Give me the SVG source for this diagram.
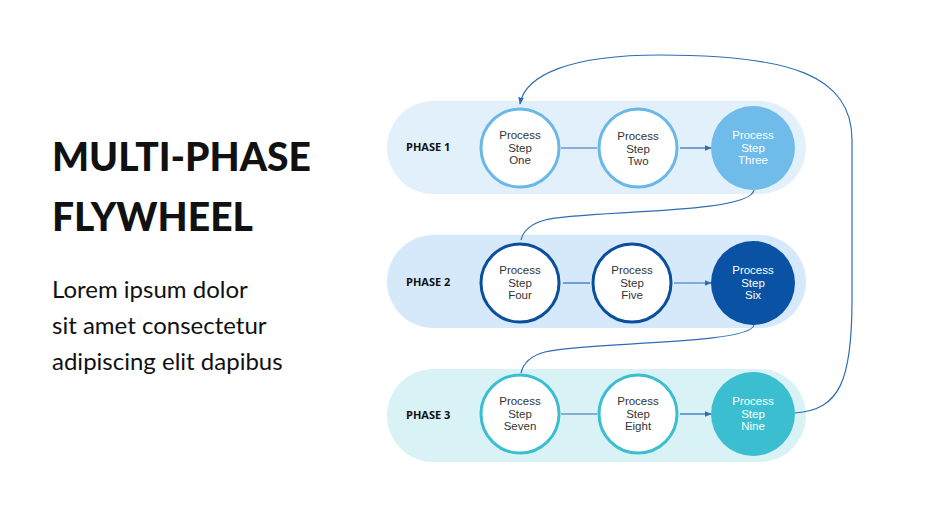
<svg xmlns="http://www.w3.org/2000/svg" width="940" height="529" viewBox="0 0 940 529">
<defs>
<style>
.t{font-family:Lato,"Noto Sans",sans-serif;font-weight:900;font-size:39px;fill:#111}
.b{font-family:Lato,"Noto Sans",sans-serif;font-size:24px;fill:#111}
.ph{font-family:"Open Sans","Noto Sans",sans-serif;font-weight:700;font-size:11px;fill:#111}
.s{font-family:"Liberation Sans",Arial,sans-serif;font-size:11.5px;text-anchor:middle;fill:#333}
.w{fill:#fff}
.c{fill:none;stroke:#2e6db4;stroke-width:1.2}
</style>
<marker id="a" viewBox="0 0 10 10" refX="9" refY="5" markerWidth="6" markerHeight="6" orient="auto"><path d="M0,1 L10,5 L0,9z" fill="#2e6db4"/></marker>
</defs>
<rect width="940" height="529" fill="#fff"/>
<text class="t" x="52" y="171">MULTI-PHASE</text>
<text class="t" x="52" y="231">FLYWHEEL</text>
<text class="b" x="52" y="298">Lorem ipsum dolor</text>
<text class="b" x="52" y="334">sit amet consectetur</text>
<text class="b" x="52" y="370">adipiscing elit dapibus</text>

<g id="phase1">
<rect x="387" y="101" width="419" height="93" rx="46.5" fill="#e2f0fb"/>
<text class="ph" x="406" y="151">PHASE 1</text>
</g>
<g id="phase2">
<rect x="387" y="235" width="419" height="93" rx="46.5" fill="#d6e9fb"/>
<text class="ph" x="406" y="286">PHASE 2</text>
</g>
<g id="phase3">
<rect x="387" y="369" width="419" height="93" rx="46.5" fill="#d8f2f5"/>
<text class="ph" x="406" y="419">PHASE 3</text>
</g>

<g id="connectors">
<line class="c" x1="561" y1="148" x2="597" y2="148"/>
<line class="c" x1="680" y1="148" x2="711" y2="148" marker-end="url(#a)"/>
<line class="c" x1="563" y1="283" x2="590" y2="283"/>
<line class="c" x1="674" y1="283" x2="711" y2="283" marker-end="url(#a)"/>
<line class="c" x1="561" y1="414" x2="597" y2="414"/>
<line class="c" x1="680" y1="414" x2="711" y2="414" marker-end="url(#a)"/>
<path class="c" d="M754,190 C750,215 580,210 545,220 C530,224 523,232 521,240"/>
<path class="c" d="M754,325 C750,345 580,342 545,352 C530,356 523,364 521,373"/>
<path class="c" d="M795,413 C840,410 852,380 852,300 L852,140 C852,75 790,55 660,55 C570,55 525,75 520,104" marker-end="url(#a)"/>
</g>

<g id="step1"><circle cx="520" cy="148" r="39" fill="#fff" stroke="#6ab8e8" stroke-width="3"/><text class="s" x="520" y="139">Process</text><text class="s" x="520" y="152">Step</text><text class="s" x="520" y="164">One</text></g>
<g id="step2"><circle cx="638" cy="148" r="39" fill="#fff" stroke="#6ab8e8" stroke-width="3"/><text class="s" x="638" y="140">Process</text><text class="s" x="638" y="153">Step</text><text class="s" x="638" y="165">Two</text></g>
<g id="step3"><circle cx="753" cy="148" r="42" fill="#6fbbe9"/><text class="s w" x="753" y="139">Process</text><text class="s w" x="753" y="152">Step</text><text class="s w" x="753" y="164">Three</text></g>
<g id="step4"><circle cx="520" cy="283" r="39" fill="#fff" stroke="#0a4f9e" stroke-width="3"/><text class="s" x="520" y="274">Process</text><text class="s" x="520" y="287">Step</text><text class="s" x="520" y="299">Four</text></g>
<g id="step5"><circle cx="632" cy="283" r="39" fill="#fff" stroke="#0a4f9e" stroke-width="3"/><text class="s" x="632" y="274">Process</text><text class="s" x="632" y="287">Step</text><text class="s" x="632" y="299">Five</text></g>
<g id="step6"><circle cx="753" cy="283" r="42" fill="#0a52a3"/><text class="s w" x="753" y="274">Process</text><text class="s w" x="753" y="287">Step</text><text class="s w" x="753" y="299">Six</text></g>
<g id="step7"><circle cx="520" cy="414" r="39" fill="#fff" stroke="#3bbfd0" stroke-width="3"/><text class="s" x="520" y="405">Process</text><text class="s" x="520" y="418">Step</text><text class="s" x="520" y="430">Seven</text></g>
<g id="step8"><circle cx="638" cy="414" r="39" fill="#fff" stroke="#3bbfd0" stroke-width="3"/><text class="s" x="638" y="405">Process</text><text class="s" x="638" y="418">Step</text><text class="s" x="638" y="430">Eight</text></g>
<g id="step9"><circle cx="753" cy="414" r="42" fill="#3bbfd0"/><text class="s w" x="753" y="405">Process</text><text class="s w" x="753" y="418">Step</text><text class="s w" x="753" y="430">Nine</text></g>
</svg>
